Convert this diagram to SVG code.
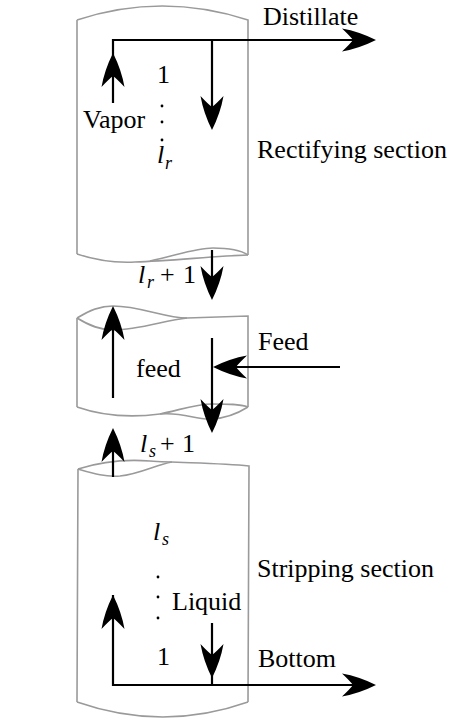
<svg xmlns="http://www.w3.org/2000/svg" xmlns:xlink="http://www.w3.org/1999/xlink" width="474" height="722" viewBox="0 0 474 722">
<style>
.cyl{fill:none;stroke:#9a9a9a;stroke-width:1.6}
.ln{fill:none;stroke:#000;stroke-width:2.2}
.i{font-style:italic}
.sub{font-style:italic;font-size:18px}
</style>
<defs>
<path id="ah" d="M0,0 Q-17,-8.5 -34,-11.5 Q-26,-4 -23,0 Q-26,4 -34,11.5 Q-17,8.5 0,0 Z" fill="#000"/>
</defs>
<rect width="474" height="722" fill="#fff"/>

<g id="rectifying" font-family="Liberation Serif" font-size="26">
<path class="cyl" d="M77,20 Q162,-8 248,20 L248,255 M77,20 L77,254"/>
<path class="cyl" d="M77,254 C95,260 115,263 135,262 C170,261 215,256 248,255"/>
<path class="cyl" d="M150,261 C175,256 195,248 213,248 C230,248 242,251 248,255"/>
<text x="83" y="128">Vapor</text>
<text x="157" y="83">1</text>
<circle cx="162" cy="106" r="1.4"/><circle cx="162" cy="122" r="1.4"/><circle cx="162" cy="140" r="1.4"/>
<text y="163"><tspan class="i" x="157">l</tspan><tspan class="sub" x="165" y="169">r</tspan></text>
<text x="257" y="158">Rectifying section</text>
</g>

<g id="feedstage" font-family="Liberation Serif" font-size="26">
<path class="cyl" d="M77,318 C90,310 100,306 113,306 C140,306 165,318 187,318 L248,316 L248,407 M77,318 L77,407"/>
<path class="cyl" d="M77,318 C90,326 100,330 113,330 C140,330 165,320 187,318"/>
<path class="cyl" d="M77,407 C100,415 130,418 160,414 C185,412 195,420 212,419 C228,418 240,412 248,407"/>
<path class="cyl" d="M160,414 C180,410 195,404 212,404 C228,404 240,404 248,407"/>
<text x="136" y="377">feed</text>
<text x="258" y="350">Feed</text>
</g>

<g id="stripping" font-family="Liberation Serif" font-size="26">
<path class="cyl" d="M78,469 C100,462 125,459 150,461 C180,463 220,463 249,466 L248,702 M78,469 L77,702"/>
<path class="cyl" d="M78,469 C95,474 105,477 120,476 C140,474 155,465 172,462"/>
<path class="cyl" d="M77,702 Q163,732 248,702"/>
<text y="540"><tspan class="i" x="153">l</tspan><tspan class="sub" x="162" y="545">s</tspan></text>
<circle cx="158" cy="577" r="1.4"/><circle cx="158" cy="597" r="1.4"/><circle cx="158" cy="618" r="1.4"/>
<text x="172" y="610">Liquid</text>
<text x="157" y="665">1</text>
<text x="257" y="577">Stripping section</text>
<text x="258" y="667">Bottom</text>
</g>

<g id="labels" font-family="Liberation Serif" font-size="26">
<text x="263" y="25">Distillate</text>
<text y="283"><tspan class="i" x="138">l</tspan><tspan class="sub" x="147" y="288">r</tspan><tspan x="160" y="283">+</tspan><tspan x="183" y="283">1</tspan></text>
<text y="452"><tspan class="i" x="140">l</tspan><tspan class="sub" x="149" y="457">s</tspan><tspan x="160" y="452">+</tspan><tspan x="182" y="452">1</tspan></text>
</g>

<g id="connectors">
<path class="ln" d="M113,103 L113,40 L360,40 M212,40 L212,115"/>
<use xlink:href="#ah" transform="translate(376,40)"/>
<use xlink:href="#ah" transform="translate(113,53) rotate(-90)"/>
<use xlink:href="#ah" transform="translate(212,130) rotate(90)"/>
<path class="ln" d="M212,250 L212,290"/>
<use xlink:href="#ah" transform="translate(212,300) rotate(90)"/>
<path class="ln" d="M113,398 L113,315"/>
<use xlink:href="#ah" transform="translate(113,306) rotate(-90)"/>
<path class="ln" d="M212,338 L212,425"/>
<use xlink:href="#ah" transform="translate(212,433) rotate(90)"/>
<path class="ln" d="M340,367 L222,367"/>
<use xlink:href="#ah" transform="translate(213,367) rotate(180)"/>
<path class="ln" d="M113,477 L113,436"/>
<use xlink:href="#ah" transform="translate(113,428) rotate(-90)"/>
<path class="ln" d="M113,595 L113,685 L360,685 M212,623 L212,685"/>
<use xlink:href="#ah" transform="translate(113,595) rotate(-90)"/>
<use xlink:href="#ah" transform="translate(212,678) rotate(90)"/>
<use xlink:href="#ah" transform="translate(376,685)"/>
</g>
</svg>
